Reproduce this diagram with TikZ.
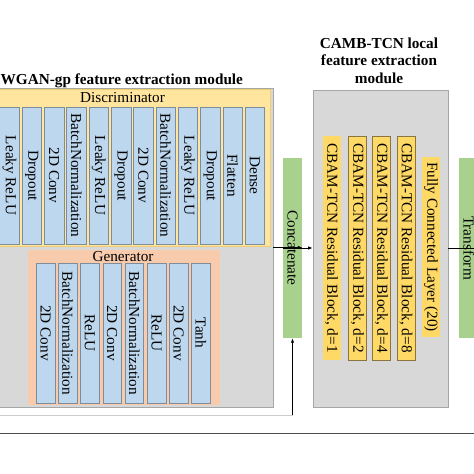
\documentclass[tikz,border=0pt]{standalone}
\usepackage{fontspec}
\setmainfont{Liberation Serif}
\usetikzlibrary{arrows.meta,calc}
\definecolor{graybox}{HTML}{D8D8D8}
\definecolor{grayedge}{HTML}{A6A6A6}
\definecolor{discyel}{HTML}{FFE59E}
\definecolor{discedge}{HTML}{EFCF72}
\definecolor{colblue}{HTML}{BDD7EE}
\definecolor{coledge}{HTML}{7F8C99}
\definecolor{genpeach}{HTML}{F8CBAD}
\definecolor{cbamyel}{HTML}{FFD966}
\definecolor{cbamedge}{HTML}{8A7440}
\definecolor{greenbox}{HTML}{A9D18E}
\tikzset{
  txt/.style={font=\fontsize{15.3}{17.5}\selectfont},
  ttl/.style={font=\fontsize{15.3}{17.5}\selectfont\bfseries},
  bcol/.style={txt, rotate=-90, minimum height=19.5bp, inner sep=0pt, fill=colblue, draw=coledge, line width=0.5bp},
  gcol/.style={txt, rotate=-90, minimum height=18.5bp, inner sep=0pt, fill=colblue, draw=coledge, line width=0.5bp},
  ycol/.style={txt, rotate=-90, minimum height=18bp, inner sep=0pt, fill=cbamyel},
  ycolb/.style={ycol, draw=cbamedge, line width=0.6bp},
  gbox/.style={txt, rotate=-90, minimum height=19.5bp, minimum width=180bp, inner sep=0pt, fill=greenbox},
  arr/.style={-{Latex[length=4.5bp,width=3.5bp]}, line width=0.8bp, black},
}
\begin{document}
\begin{tikzpicture}[x=1bp,y=-1bp]
\useasboundingbox (0,0) rectangle (474,474);
\clip (0,0) rectangle (474,474);
\fill[white] (0,0) rectangle (474,474);

% WGAN-gp module
\node[ttl, anchor=base west, inner sep=0pt] (wt) at (0.5,85) {WGAN-gp feature extraction module};
\node[fill=graybox, draw=grayedge, line width=0.8bp, minimum width=293bp, minimum height=319bp, inner sep=0pt] (gan) at (126.5,247.5) {};
\node[fill=discyel, draw=discedge, line width=0.6bp, minimum width=290bp, minimum height=157bp, inner sep=0pt] (disc) at (125,168) {};
\node[txt, anchor=base, inner sep=0pt] (dl) at (122.5,103) {Discriminator};
\foreach \i/\t in {0/Leaky ReLU,1/Dropout,2/2D Conv,3/BatchNormalization,4/Leaky ReLU,5/Dropout,6/2D Conv,7/BatchNormalization,8/Leaky ReLU,9/Dropout,10/Flatten,11/Dense}{
  \node[bcol, minimum width=137bp] (d\i) at ({9.5+22.3*\i},175.5) {\t};
}
\node[fill=genpeach, minimum width=192bp, minimum height=155bp, inner sep=0pt] (gen) at (124,327.5) {};
\node[txt, anchor=base, inner sep=0pt] (gl) at (123,261.5) {Generator};
\foreach \i/\t in {0/2D Conv,1/BatchNormalization,2/ReLU,3/2D Conv,4/BatchNormalization,5/ReLU,6/2D Conv,7/Tanh}{
  \node[gcol, minimum width=140bp] (g\i) at ({45.5+22.2*\i},333) {\t};
}

% Concatenate
\node[gbox] (conc) at (292.5,248) {Concatenate};

% CAMB-TCN module
\node[ttl, align=center, anchor=north, inner sep=0pt] (ct) at (379,37.5) {CAMB-TCN local\\feature extraction\\module};
\node[fill=graybox, draw=grayedge, line width=0.8bp, minimum width=135bp, minimum height=317bp, inner sep=0pt] (camb) at (380.5,248.5) {};
\node[ycol, minimum width=224bp] (c1) at (331.5,248) {CBAM-TCN Residual Block, d=1};
\node[ycolb, minimum width=224bp] (c2) at (357.5,248) {CBAM-TCN Residual Block, d=2};
\node[ycolb, minimum width=224bp] (c3) at (381.5,248) {CBAM-TCN Residual Block, d=4};
\node[ycolb, minimum width=224bp] (c4) at (406,248) {CBAM-TCN Residual Block, d=8};
\node[ycol, minimum width=180bp] (c5) at (431,247) {Fully Connected Layer (20)};

% Transform
\node[gbox, minimum height=20bp] (tr) at (469,248) {Transform};

% connectors
\draw[arr] (gan.east) -- (gan.east -| conc.north);
\draw[arr] (conc.south) -- (conc.south -| camb.west);
\draw[arr] (camb.east) -- (camb.east -| tr.north);
\coordinate (bl) at (0,415);
\coordinate (br) at (292.5,415);
\draw[black!20, line width=0.8bp] (bl) -- (br);
\draw[arr] (br) -- (conc.east);
\coordinate (ll) at (0,433.5);
\coordinate (lr) at (474,433.5);
\draw[black!70, line width=1.2bp] (ll) -- (lr);
\end{tikzpicture}
\end{document}
